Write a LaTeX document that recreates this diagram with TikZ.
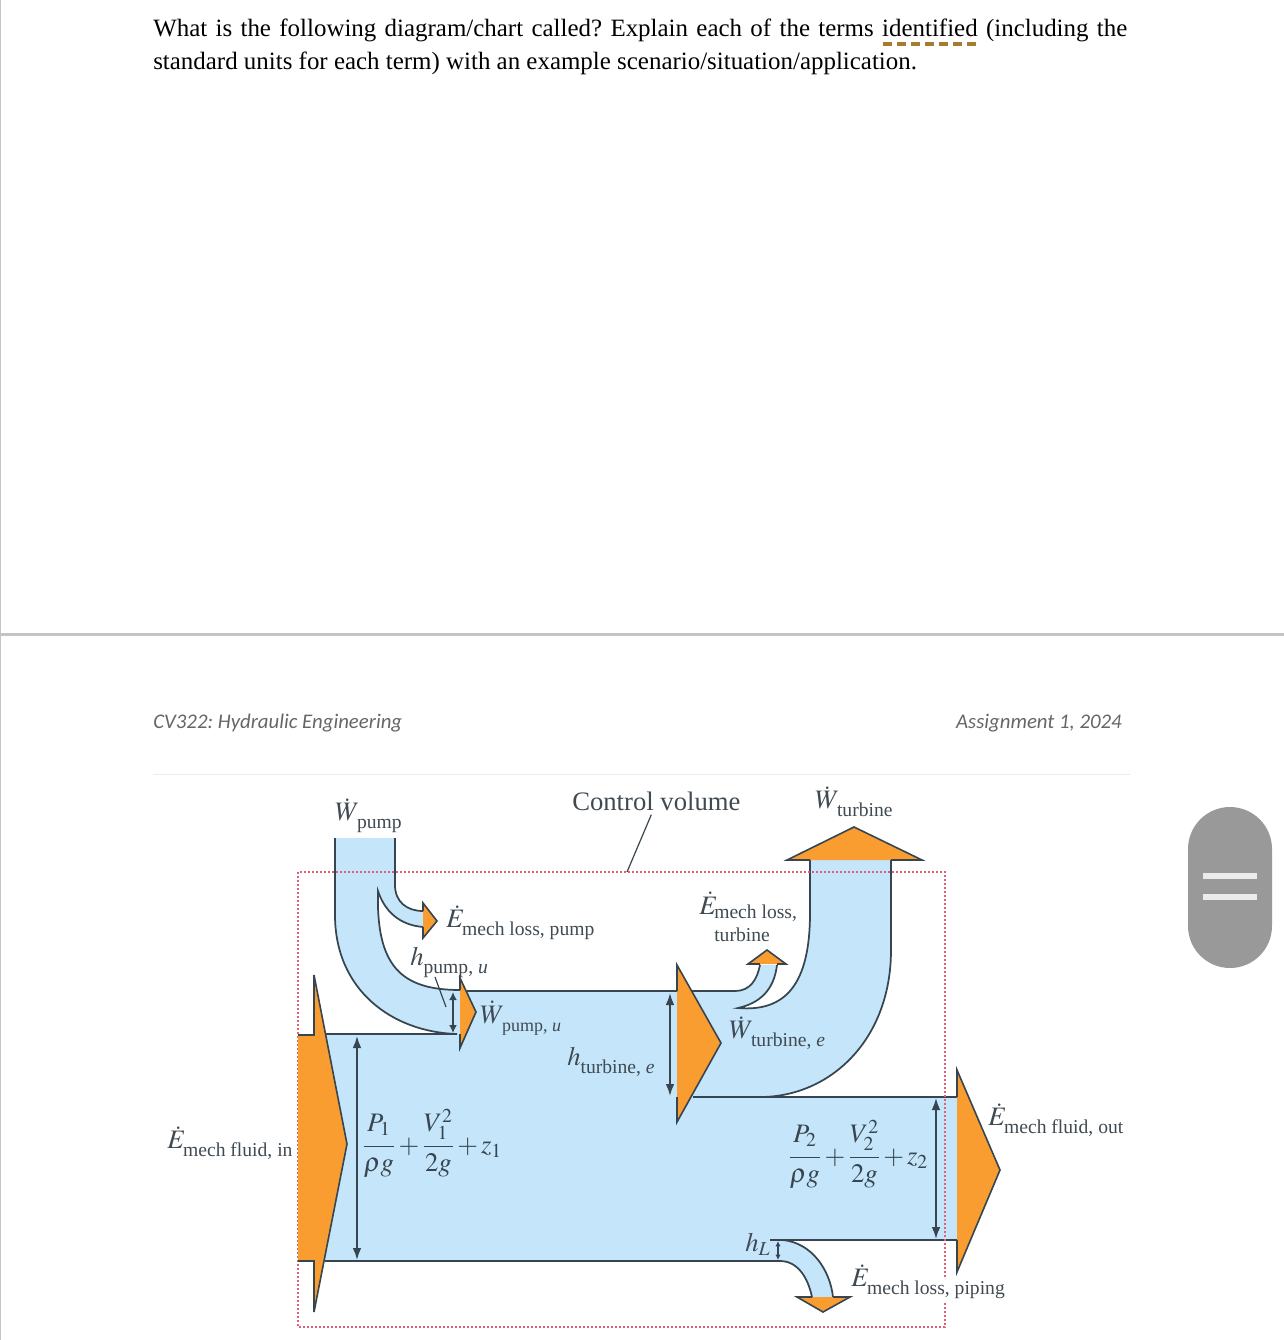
\documentclass[tikz,border=0pt]{standalone}
\usepackage{amsmath}
\usepackage{mathptmx}
\usepackage{fontspec}
\setmainfont{Liberation Serif}
\setsansfont{Carlito}
\usetikzlibrary{arrows.meta}
\definecolor{fluidblue}{HTML}{C5E6FA}
\definecolor{arroworange}{HTML}{F99D31}
\definecolor{edgeline}{HTML}{36454F}
\definecolor{labelgray}{HTML}{3F4A52}
\definecolor{cvpink}{HTML}{E0607A}
\definecolor{handlegray}{HTML}{999999}
\definecolor{pagegray}{HTML}{C4C4C4}
\definecolor{squiggle}{HTML}{A87B2D}
\newcommand{\flowlabel}[3]{$\dot{#1}$\kern-1.8pt\raisebox{-6pt}{\fontsize{#2}{#2}\selectfont #3}}
\newcommand{\numlift}{\rule[-8pt]{0pt}{0pt}}
\tikzset{
  edge/.style={draw=edgeline, line width=1.3pt},
  dimline/.style={edgeline, line width=1.3pt, {Latex[length=9pt,width=6.5pt]}-{Latex[length=9pt,width=6.5pt]}},
  dimsmall/.style={edgeline, line width=1.2pt, {Latex[length=6pt,width=6pt]}-{Latex[length=6pt,width=6pt]}},
  dimtiny/.style={edgeline, line width=1pt, {Latex[length=4pt,width=4pt]}-{Latex[length=4pt,width=4pt]}},
  flowarrow/.style={fill=arroworange, draw=edgeline, line width=1.2pt},
  volume/.style={cvpink, line width=1.2pt, dash pattern=on 1.5pt off 1.5pt},
  lab/.style={inner sep=0pt, anchor=west, text=labelgray, font=\fontsize{20}{24}\selectfont},
  formula/.style={inner sep=0pt, anchor=base west, text=edgeline, font=\fontsize{20}{24}\selectfont}
}
\begin{document}
\frenchspacing
\medmuskip=2mu
\begin{tikzpicture}[x=0.75pt,y=-0.75pt]
\useasboundingbox (0,0) rectangle (1284,1340);

\fill[pagegray] (0,0) rectangle (1.5,1340);
\fill[pagegray] (0,633) rectangle (1284,636);
\draw[black!8, line width=0.6pt] (153,774) -- (1130,774);

\node[inner sep=0pt, anchor=base west, font=\fontsize{18.7}{24}\selectfont] (line1) at (153,36) {\makebox[730.5pt][s]{What is the following diagram/chart called? Explain each of the terms identified (including the}};
\node[inner sep=0pt, anchor=base west, font=\fontsize{18.7}{24}\selectfont] (line2) at (153,69) {standard units for each term) with an example scenario/situation/application.};
\coordinate (wavyL) at (883,44);
\coordinate (wavyR) at (980,44);
\draw[squiggle, line width=3.5pt, dash pattern=on 6.5pt off 4pt] (wavyL) -- (wavyR);

\node[inner sep=0pt, anchor=west, text=black!60, font=\sffamily\itshape\fontsize{15.6}{18}\selectfont] (course) at (153,723) {CV322: Hydraulic Engineering};
\node[inner sep=0pt, anchor=east, text=black!60, font=\sffamily\itshape\fontsize{15.6}{18}\selectfont] (assign) at (1122,723) {Assignment 1, 2024};

\fill[handlegray, rounded corners=31.5pt] (1188,807) rectangle (1272,968);
\fill[black!8] (1203,873) rectangle (1257,879);
\fill[black!8] (1203,894) rectangle (1257,900);

% fluid
\fill[fluidblue] (335,838) -- (395,838) -- (395,885) .. controls (395,902) and (407,911) .. (423,911) -- (423,927)
  .. controls (400,925) and (385,912) .. (378,891) .. controls (376,965) and (400,990) .. (460,990)
  -- (735,991) .. controls (750,991) and (757,980) .. (760,965) -- (777,965)
  .. controls (774,990) and (760,1003) .. (738,1008) .. controls (785,1012) and (810,985) .. (810,913)
  -- (810,860) -- (891,860) -- (891,950) .. controls (891,1040) and (830,1097) .. (760,1097)
  -- (957,1097) -- (957,1240) -- (783,1240) .. controls (812,1243) and (830,1270) .. (833,1297)
  -- (812,1297) .. controls (808,1278) and (798,1261) .. (780,1261)
  -- (300,1261) -- (300,1034) -- (457,1034) .. controls (392,1032) and (335,990) .. (335,915) -- cycle;

% stream edges
\draw[edge] (335,838) -- (335,915) .. controls (335,990) and (392,1032) .. (457,1034) -- (325,1034);
\draw[edge] (395,838) -- (395,885) .. controls (395,902) and (407,911) .. (423,911);
\draw[edge] (423,927) .. controls (400,925) and (385,912) .. (378,891) .. controls (376,965) and (400,990) .. (460,990);
\draw[edge] (467,991) -- (735,991) .. controls (750,991) and (757,980) .. (760,965);
\draw[edge] (777,965) .. controls (774,990) and (760,1003) .. (738,1008) .. controls (785,1012) and (810,985) .. (810,913) -- (810,860);
\draw[edge] (891,860) -- (891,950) .. controls (891,1040) and (830,1097) .. (760,1097);
\draw[edge] (693,1097) -- (957,1097);
\draw[edge] (957,1240) -- (770,1240);
\draw[edge] (783,1240) .. controls (812,1243) and (830,1270) .. (833,1297);
\draw[edge] (325,1261) -- (780,1261) .. controls (798,1261) and (808,1278) .. (812,1297);

% control volume
\coordinate (cvA) at (945,1277);
\coordinate (cvB) at (945,872);
\coordinate (cvC) at (298,872);
\coordinate (cvD) at (298,1327);
\coordinate (cvE) at (945,1327);
\coordinate (cvF) at (945,1303);
\draw[volume] (cvA) -- (cvB) -- (cvC) -- (cvD) -- (cvE) -- (cvF);

% energy arrows
\draw[flowarrow] (298,1035) -- (314,1035) -- (314,975) -- (347,1144) -- (314,1312) -- (314,1261) -- (298,1261);
\draw[flowarrow] (423,911) -- (423,903) -- (437,921) -- (423,938) -- (423,927);
\draw[flowarrow] (460,990) -- (460,978) -- (476,1012) -- (460,1048) -- (460,1034);
\draw[flowarrow] (677,991) -- (677,965) -- (721,1043) -- (677,1122) -- (677,1097);
\draw[flowarrow] (760,964) -- (748,964) -- (767,950) -- (786,964) -- (777,964);
\draw[flowarrow] (810,860) -- (787,860) -- (854,827) -- (922,860) -- (891,860);
\draw[flowarrow] (812,1297) -- (797,1297) -- (823,1312) -- (850,1297) -- (833,1297);
\draw[flowarrow] (957,1097) -- (957,1070) -- (1000,1170) -- (957,1272) -- (957,1240);

% heights
\coordinate (inT) at (357,1036);
\coordinate (inB) at (357,1260);
\draw[dimline] (inT) -- (inB);
\coordinate (pumpT) at (453,992);
\coordinate (pumpB) at (453,1033);
\draw[dimsmall] (pumpT) -- (pumpB);
\coordinate (turbT) at (670,993);
\coordinate (turbB) at (670,1096);
\draw[dimline] (turbT) -- (turbB);
\coordinate (outT) at (936,1098);
\coordinate (outB) at (936,1239);
\draw[dimline] (outT) -- (outB);
\coordinate (lossT) at (778,1241);
\coordinate (lossB) at (778,1260);
\draw[dimtiny] (lossT) -- (lossB);

% labels
\node[lab] (cvlabel) at (572,801) {Control volume};
\coordinate (cvfoot) at (627,872);
\draw[edgeline, line width=0.9pt] ([xshift=-3.75pt,yshift=-3pt]cvlabel.south) -- (cvfoot);
\node[lab] (wpump) at (335,816) {\flowlabel{W}{14.7}{pump}};
\node[lab] (wturbine) at (815,802) {\flowlabel{W}{14.7}{turbine}};
\node[lab] (elosspump) at (446,923) {\flowlabel{E}{14.7}{mech loss, pump}};
\node[lab] (hpump) at (410,962) {$h$\raisebox{-6pt}{\fontsize{14.7}{14.7}\selectfont pump, \textit{u}}};
\coordinate (hpumpA) at (435,977);
\coordinate (hpumpB) at (446,1007);
\draw[edgeline, line width=0.9pt] (hpumpA) -- (hpumpB);
\node[lab] (wpumpu) at (480,1018) {\flowlabel{W}{13.5}{pump, \textit{u}}};
\node[lab] (hturbine) at (567,1062) {$h$\raisebox{-6pt}{\fontsize{14.7}{14.7}\selectfont turbine, \textit{e}}};
\node[lab] (elossturb) at (699,903) {$\dot{E}$};
\node[lab, font=\fontsize{14.7}{17}\selectfont] (elossturbA) at (714,913) {mech loss,};
\node[lab, font=\fontsize{14.7}{17}\selectfont] (elossturbB) at (714,935) {turbine};
\node[lab] (wturbe) at (729,1033) {\flowlabel{W}{14.7}{turbine, \textit{e}}};
\node[lab] (ein) at (167,1143) {\flowlabel{E}{14.7}{mech fluid, in}};
\node[lab] (eout) at (988,1120) {\flowlabel{E}{14.7}{mech fluid, out}};
\node[lab] (elosspipe) at (851,1282) {\flowlabel{E}{14.7}{mech loss, piping}};
\node[lab] (hl) at (745,1244) {$h_L$};
\node[formula] (headin) at (362,1153) {$\dfrac{\numlift P_1}{\rho g}+\dfrac{\numlift V_1^2}{2g}+z_1$};
\node[formula] (headout) at (788,1164) {$\dfrac{\numlift P_2}{\rho g}+\dfrac{\numlift V_2^2}{2g}+z_2$};
\end{tikzpicture}
\end{document}
